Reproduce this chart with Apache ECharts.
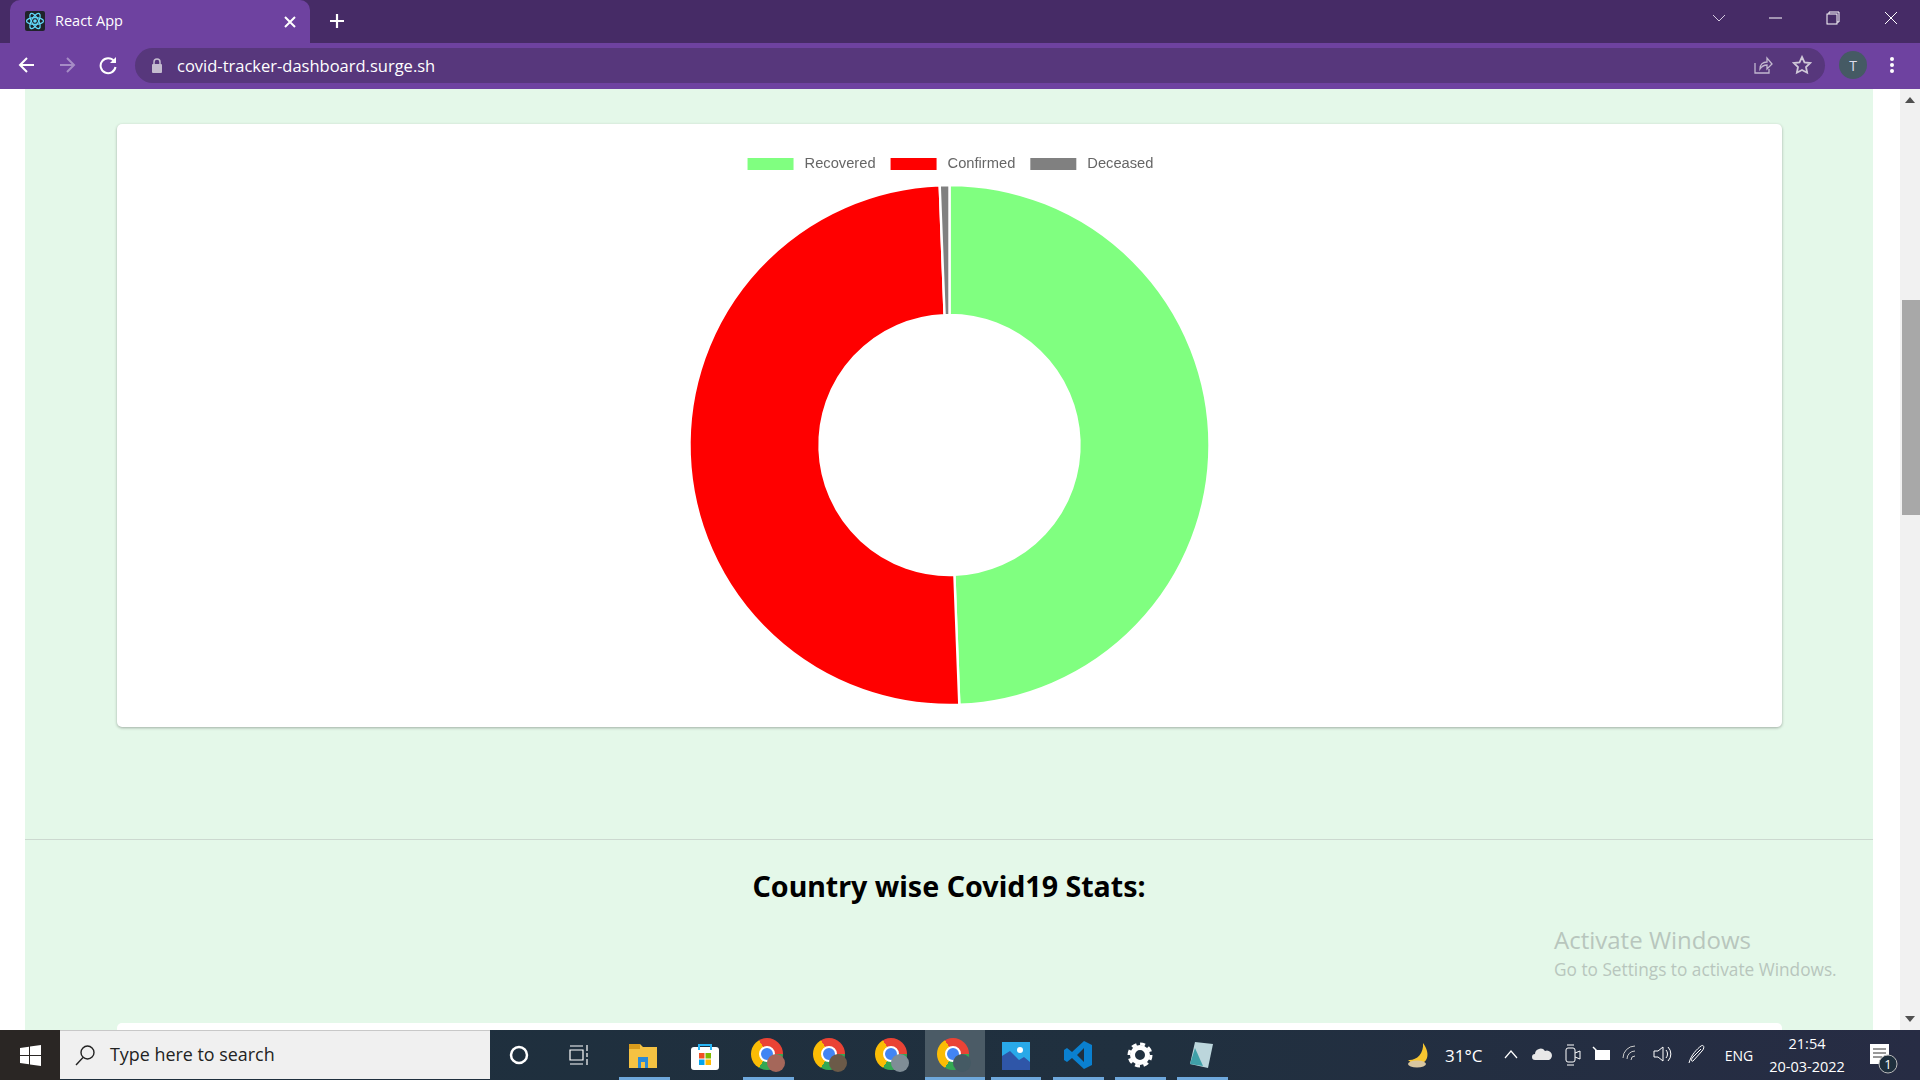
<!DOCTYPE html>
<html>

<head>
    <meta charset="utf-8">
    <title>React App</title>
    <script src="https://cdn.jsdelivr.net/npm/echarts@6/dist/echarts.min.js"></script>
    <style>
        html, body { margin: 0; padding: 0; width: 1920px; height: 1080px; overflow: hidden; background: #fff; }
        body { position: relative; font-family: "Open Sans", "Noto Sans", sans-serif; }
        .abs, svg, span { position: absolute; }
        .ui { color: #fff; white-space: nowrap; }
        .ctr { transform: translate(-50%, -50%); }
        .chrome-ic { width: 32px; height: 32px; border-radius: 50%;
            background: conic-gradient(from -30deg, #ea4335 0 120deg, #34a853 120deg 240deg, #fbbc05 240deg 360deg); }
        .chrome-ic i { position: absolute; left: 8px; top: 8px; width: 12px; height: 12px; border-radius: 50%; background: #4285f4; border: 2px solid #fff; }
        .chrome-ic b { position: absolute; left: 16px; top: 16px; width: 18px; height: 18px; border-radius: 50%; }
        .bar { position: absolute; top: 1077px; height: 3px; background: #6ea8dc; }
    </style>
</head>

<body>
    <!-- page -->
    <div class="abs" style="left:25px;top:88px;width:1848px;height:942px;background:#e4f8e9"></div>
    <div class="abs" style="left:117px;top:124px;width:1665px;height:603px;background:#fff;border-radius:5px;box-shadow:0 1px 3px rgba(0,0,0,.3)">
        <div id="donut" style="width:1665px;height:603px"></div>
    </div>
    <div class="abs" style="left:25px;top:839px;width:1848px;height:1px;background:#ccd9d0"></div>
    <span class="ctr" style="left:949px;top:885px;font:700 28.6px 'Noto Sans',sans-serif;color:#000;white-space:nowrap">Country wise Covid19 Stats:</span>
    <div class="abs" style="left:117px;top:1023px;width:1665px;height:10px;background:#fff;border-radius:5px 5px 0 0"></div>
    <span style="left:1554px;top:923px;font-size:24px;color:#b8c6bd;white-space:nowrap">Activate Windows</span>
    <span style="left:1554px;top:958px;font-size:17.25px;color:#b8c6bd;white-space:nowrap">Go to Settings to activate Windows.</span>

    <!-- scrollbar -->
    <div class="abs" style="left:1900px;top:88px;width:20px;height:942px;background:#f1f1f1"></div>
    <div class="abs" style="left:1902px;top:300px;width:18px;height:215px;background:#a8a8a8"></div>
    <svg style="left:1900px;top:92px" width="20" height="16"><path d="M5 11h10l-5-6z" fill="#505050"/></svg>
    <svg style="left:1900px;top:1011px" width="20" height="16"><path d="M5 5h10l-5 6z" fill="#505050"/></svg>

    <!-- browser bar -->
    <div class="abs" style="left:0;top:0;width:1920px;height:43px;background:#462b66"></div>
    <div class="abs" style="left:0;top:43px;width:1920px;height:46px;background:#6e42a0"></div>
    <div class="abs" style="left:10px;top:0;width:300px;height:43px;background:#6e42a0;border-radius:10px 10px 0 0"></div>
    <svg style="left:25px;top:11px" width="20" height="20"><rect width="20" height="20" rx="2" fill="#20232a"/><g fill="none" stroke="#61dafb" stroke-width="1.2"><ellipse cx="10" cy="10" rx="8.5" ry="3.4"/><ellipse cx="10" cy="10" rx="8.5" ry="3.4" transform="rotate(60 10 10)"/><ellipse cx="10" cy="10" rx="8.5" ry="3.4" transform="rotate(120 10 10)"/></g><circle cx="10" cy="10" r="1.8" fill="#61dafb"/></svg>
    <span class="ui" style="left:55px;top:11px;font-size:14.5px">React App</span>
    <svg style="left:282px;top:14px" width="16" height="16"><path d="M3 3l10 10M13 3L3 13" stroke="#fff" stroke-width="2"/></svg>
    <svg style="left:328px;top:12px" width="18" height="18"><path d="M9 2v14M2 9h14" stroke="#fff" stroke-width="2.2"/></svg>
    <svg style="left:1709px;top:12px" width="20" height="12"><path d="M4 3l6 6 6-6" fill="none" stroke="#d5cbe0" stroke-width="1"/></svg>
    <svg style="left:1769px;top:12px" width="14" height="12"><path d="M0 6h13" stroke="#fff" stroke-width="1"/></svg>
    <svg style="left:1826px;top:11px" width="14" height="14"><path d="M3 3V1h10v10h-2" fill="none" stroke="#fff"/><rect x="1" y="3" width="10" height="10" fill="none" stroke="#fff"/></svg>
    <svg style="left:1884px;top:11px" width="14" height="14"><path d="M1 1l12 12M13 1L1 13" stroke="#fff" stroke-width="1"/></svg>

    <svg style="left:17px;top:55px" width="20" height="20"><path d="M17 10H4M10 3l-7 7 7 7" fill="none" stroke="#fff" stroke-width="2"/></svg>
    <svg style="left:57px;top:55px" width="20" height="20"><path d="M3 10h13M10 3l7 7-7 7" fill="none" stroke="#a68cc6" stroke-width="2"/></svg>
    <svg style="left:98px;top:55px" width="20" height="20"><path d="M16 6a7.5 7.5 0 1 0 1.5 6" fill="none" stroke="#fff" stroke-width="2"/><path d="M18 2v6h-6z" fill="#fff"/></svg>
    <div class="abs" style="left:135px;top:48px;width:1690px;height:35px;border-radius:18px;background:#57377c"></div>
    <svg style="left:151px;top:58px" width="12" height="16"><rect x="1" y="6" width="10" height="9" rx="1" fill="#c4bccf"/><path d="M3 6V4a3 3 0 0 1 6 0v2" fill="none" stroke="#c4bccf" stroke-width="1.5"/></svg>
    <span class="ui" style="left:177px;top:54px;font-size:16.5px">covid-tracker-dashboard.surge.sh</span>
    <svg style="left:1753px;top:55px" width="20" height="20"><path d="M2 8v10h14v-4M7 14c0-5 3-7 7-7V3l5 6-5 5v-4c-3 0-5 1-7 4z" fill="none" stroke="#c2b8cf" stroke-width="1.3"/></svg>
    <svg style="left:1792px;top:55px" width="20" height="20"><path d="M10 2l2.5 5.3 5.7.7-4.2 4 1.1 5.7L10 15l-5.100 2.700L6 12 1.800 8l5.700-.7z" fill="none" stroke="#cfc8d8" stroke-width="1.8"/></svg>
    <div class="abs" style="left:1839px;top:51px;width:28px;height:28px;border-radius:50%;background:#455a64"></div>
    <span class="ui ctr" style="left:1853px;top:65px;font-size:14px;color:#dde">T</span>
    <svg style="left:1888px;top:55px" width="8" height="20"><circle cx="4" cy="4" r="2" fill="#fff"/><circle cx="4" cy="10" r="2" fill="#fff"/><circle cx="4" cy="16" r="2" fill="#fff"/></svg>

    <!-- taskbar -->
    <div class="abs" style="left:0;top:1030px;width:1920px;height:50px;background:linear-gradient(90deg,#1e2f3d 0%,#20303f 60%,#272c44 100%)"></div>
    <div class="abs" style="left:0;top:1030px;width:60px;height:50px;background:#2a2624"></div>
    <svg style="left:20px;top:1045px" width="21" height="21"><path d="M0 3l9-1.300V10H0zM10 1.500L21 0v10H10zM0 11h9v8.300L0 18zM10 11h11v10l-11-1.500z" fill="#fff"/></svg>
    <div class="abs" style="left:60px;top:1030px;width:430px;height:49px;background:#f0f0f0;border-top:1px solid #c8c8c8;box-sizing:border-box"></div>
    <svg style="left:74px;top:1044px" width="22" height="22"><circle cx="13.500" cy="8.500" r="6.500" fill="none" stroke="#222" stroke-width="1.400"/><path d="M9 13.500L2 21" stroke="#222" stroke-width="1.400"/></svg>
    <span style="left:110px;top:1042px;font-size:17.9px;color:#222;white-space:nowrap">Type here to search</span>

    <svg style="left:508px;top:1044px" width="22" height="22"><circle cx="11" cy="11" r="8" fill="none" stroke="#fff" stroke-width="2.500"/></svg>
    <svg style="left:569px;top:1044px" width="22" height="22"><path d="M1 2h13M1 20h13M1 6h13v10H1zM18 1v6M18 15v6M18 9v4" fill="none" stroke="#fff" stroke-width="1.200"/></svg>
    <svg style="left:629px;top:1042px" width="28" height="26"><path d="M0 2h11l3 3h14v21H0z" fill="#f5c242"/><path d="M0 2h11v5H0z" fill="#d99b1c"/><path d="M9 26V15h10v11h-3v-6h-4v6z" fill="#2b8ad6"/></svg>
    <svg style="left:691px;top:1042px" width="28" height="28"><rect y="5" width="28" height="23" rx="3" fill="#fff"/><path d="M8 8V3h12v5" fill="none" stroke="#29b6f6" stroke-width="2"/><rect x="8" y="11" width="5.500" height="5.500" fill="#f25022"/><rect x="14.500" y="11" width="5.500" height="5.500" fill="#7fba00"/><rect x="8" y="17.500" width="5.500" height="5.500" fill="#00a4ef"/><rect x="14.500" y="17.500" width="5.500" height="5.500" fill="#ffb900"/></svg>
    <div class="abs" style="left:925px;top:1030px;width:60px;height:50px;background:#4b5b66"></div>
    <div class="abs chrome-ic" style="left:751px;top:1038px"><i></i><b style="background:#a5675a"></b></div>
    <div class="abs chrome-ic" style="left:813px;top:1038px"><i></i><b style="background:#6b5a48"></b></div>
    <div class="abs chrome-ic" style="left:875px;top:1038px"><i></i><b style="background:#7f8d96"></b></div>
    <div class="abs chrome-ic" style="left:937px;top:1038px"><i></i><b style="background:#455a64"></b></div>
    <svg style="left:1002px;top:1042px" width="28" height="28"><rect width="28" height="28" fill="#29a9e8"/><path d="M0 28V14l8-5 9 9 5-3 6 5v8z" fill="#2f56a8"/><circle cx="18" cy="8" r="3" fill="#fff"/></svg>
    <svg style="left:1063px;top:1040px" width="30" height="30"><path d="M21 1l8 4v20l-8 4-12-11-5 4-3-2V10l3-2 5 4zM21 8l-7 7 7 7z" fill="#0a80d0"/></svg>
    <svg style="left:1126px;top:1041px" width="28" height="28"><circle cx="14" cy="14" r="7.500" fill="none" stroke="#fff" stroke-width="5"/><circle cx="14" cy="14" r="11" fill="none" stroke="#fff" stroke-width="3" stroke-dasharray="5 3.600"/></svg>
    <svg style="left:1188px;top:1040px" width="26" height="30"><path d="M7 2l18 2-5 24L2 24z" fill="#bcd6dc"/><path d="M2 24L7 8l8 18z" fill="#3fa0a8"/></svg>
    <div class="bar" style="left:619px;width:51px"></div>
    <div class="bar" style="left:743px;width:51px"></div>
    <div class="bar" style="left:925px;width:60px"></div>
    <div class="bar" style="left:991px;width:50px"></div>
    <div class="bar" style="left:1053px;width:51px"></div>
    <div class="bar" style="left:1115px;width:51px"></div>
    <div class="bar" style="left:1177px;width:51px"></div>

    <svg style="left:1406px;top:1042px" width="28" height="28"><path d="M17 1c7 9 6 20-4 21-4 0-8-1-11-4 8 1 16-6 15-17z" fill="#f8c630"/><ellipse cx="11" cy="22" rx="9" ry="3.500" fill="#d8c6a0"/></svg>
    <span class="ui" style="left:1445px;top:1044px;font-size:17px">31°C</span>
    <svg style="left:1503px;top:1047px" width="16" height="14"><path d="M2 11l6-7 6 7" fill="none" stroke="#fff" stroke-width="1.200"/></svg>
    <svg style="left:1532px;top:1046px" width="20" height="16"><path d="M3 14a3 3 0 0 1 0-6 5.500 5.500 0 0 1 10-3 4.500 4.500 0 0 1 4 9z" fill="#e8e8e8"/></svg>
    <svg style="left:1564px;top:1044px" width="18" height="22"><rect x="2" y="4" width="9" height="14" rx="2" fill="none" stroke="#fff"/><path d="M11 9l5-2v8l-5-2M3 1h7M3 21h7" fill="none" stroke="#fff"/></svg>
    <svg style="left:1592px;top:1046px" width="20" height="16"><rect x="3" y="4" width="15" height="10" fill="#fff"/><path d="M1 1l4 4" stroke="#fff" stroke-width="1.500"/></svg>
    <svg style="left:1622px;top:1045px" width="20" height="18"><g fill="none" stroke="#ccc"><path d="M1 13a12 12 0 0 1 12-12"/><path d="M5 14a8 8 0 0 1 8-8"/><path d="M9 15a4 4 0 0 1 4-4"/></g></svg>
    <svg style="left:1652px;top:1045px" width="20" height="18"><path d="M2 6h4l5-4v14l-5-4H2zM14 5a6 6 0 0 1 0 8M16 2a10 10 0 0 1 0 14" fill="none" stroke="#fff"/></svg>
    <svg style="left:1687px;top:1043px" width="20" height="22"><path d="M2 20c2-8 8-14 12-17 3-2 4 2 1 5L6 18c-2 1-2-2 0-4l8-8" fill="none" stroke="#fff"/></svg>
    <span class="ui ctr" style="left:1739px;top:1055px;font-size:14px">ENG</span>
    <span class="ui ctr" style="left:1807px;top:1043px;font-size:14.5px">21:54</span>
    <span class="ui ctr" style="left:1807px;top:1066px;font-size:14.5px">20-03-2022</span>
    <svg style="left:1868px;top:1042px" width="30" height="32"><path d="M2 2h19v20H2z" fill="#fff"/><path d="M5 7h13M5 11h13M5 15h9" stroke="#333"/><circle cx="20" cy="22" r="9" fill="#1e2f3d" stroke="#bbb"/></svg>
    <span class="ui ctr" style="left:1888px;top:1064px;font-size:13px">1</span>

    <script>
        var labels = ['Recovered', 'Confirmed', 'Deceased'];
        var values = [49.4, 50.0, 0.6];
        var colors = ['#80ff80', '#ff0000', '#808080'];

        var rows = [];
        for (var i = 0; i < labels.length; i++) {
            rows.push({ name: labels[i], value: values[i], itemStyle: { color: colors[i] } });
        }

        var donutChart = echarts.init(document.getElementById('donut'));
        var donutOption = {
            animation: false,
            legend: {
                top: 27,
                left: 'center',
                icon: 'rect',
                itemWidth: 48,
                itemHeight: 14,
                itemGap: 13,
                data: labels,
                textStyle: {
                    fontFamily: 'Liberation Sans',
                    fontSize: 14.7,
                    color: '#666',
                    padding: [0, 0, 0, 5]
                }
            },
            series: [
                {
                    type: 'pie',
                    center: [832.5, 321],
                    radius: [130, 260],
                    startAngle: 90,
                    clockwise: true,
                    label: { show: false },
                    labelLine: { show: false },
                    itemStyle: { borderColor: '#fff', borderWidth: 2.4 },
                    emphasis: { scale: false },
                    data: rows
                }
            ]
        };
        donutChart.setOption(donutOption);
    </script>
</body>

</html>
